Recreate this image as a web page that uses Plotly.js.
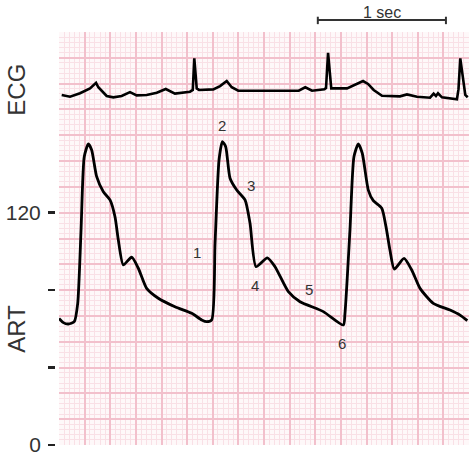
<!DOCTYPE html>
<html>
<head>
<meta charset="utf-8">
<script src="https://cdn.plot.ly/plotly-3.0.1.min.js"></script>
<style>html,body{margin:0;padding:0;background:#fff}#chart{width:474px;height:455px}</style>
</head>
<body>
<div id="chart"></div>
<script>
// Arterial pressure trace (time in s, pressure in mmHg)
var artTime = [0.000,0.034,0.073,0.119,0.146,0.172,0.197,0.229,0.255,0.294,0.346,0.398,0.437,0.463,0.502,0.567,0.619,0.684,0.775,0.905,1.036,1.114,
  1.153,1.192,1.218,1.249,1.275,1.301,1.335,1.387,1.452,1.491,1.538,1.626,1.686,1.790,1.881,2.063,2.219,
  2.232,2.271,2.302,2.336,2.367,2.414,2.453,2.519,2.552,2.583,2.617,2.693,2.753,2.818,2.921,3.052,3.130,3.187];
var artPressure = [65.4,63.2,62.5,63.7,73.2,111.1,148.9,155.5,152.4,138.6,130.8,126.6,117.9,105.9,93.0,97.0,91.3,80.9,75.8,71.4,68.0,64.6,
  63.7,64.6,104.2,147.2,156.7,154.1,137.8,131.7,126.6,114.5,92.1,96.7,92.1,79.2,74.0,68.9,62.0,
  68.0,111.1,148.9,155.5,150.7,131.7,126.2,122.3,112.8,100.7,90.8,96.4,90.4,80.9,73.2,69.7,67.1,64.2];

// ECG trace (time in s, plotted on the same vertical scale, offset above the pressure)
var ecgTime = [0.021,0.086,0.164,0.242,0.289,0.307,0.372,0.424,0.489,0.554,0.606,0.684,0.763,0.833,0.905,1.022,1.044,1.056,1.075,1.093,1.204,1.257,1.309,1.348,1.399,1.569,1.871,1.922,1.975,2.071,2.084,2.100,2.125,2.248,2.310,2.373,2.412,2.456,2.521,2.661,2.716,2.794,2.896,2.924,2.942,2.958,2.989,3.052,3.106,3.118,3.132,3.171,3.190];
var ecgValue = [180.8,179.9,181.7,184.2,187.1,184.8,180.3,179.6,180.3,182.3,180.6,180.8,182.0,183.9,181.5,182.5,183.4,199.7,184.2,183.4,183.7,185.4,188.0,184.8,183.0,183.0,183.0,184.8,183.0,183.7,184.4,202.6,184.2,184.2,186.0,188.0,186.5,183.4,180.4,180.1,181.1,179.9,179.4,181.5,180.3,181.7,179.6,179.2,178.6,183.8,199.7,180.8,179.6];

// Waveform point labels
var pointLabels = ["1","2","3","4","5","6"];
var labelTime = [1.075,1.275,1.496,1.530,1.954,2.206];
var labelValue = [99.3,164.8,134.3,82.6,80.1,52.5];

// Pressure axis ticks
var pressureTicks = [0,40,80,120];
var pressureTickText = ["0","","","120"];

// Scale bar (seconds)
var scaleStart = 2.02, scaleEnd = 3.02, scaleText = "1 sec";

var FONT = "Arial, 'Liberation Sans', sans-serif";
var INK = "#333333";

var traces = [
  {x: ecgTime, y: ecgValue, type: "scatter", mode: "lines", line: {color: "#000", width: 2.6}, hoverinfo: "skip"},
  {x: artTime, y: artPressure, type: "scatter", mode: "lines", line: {color: "#000", width: 2.8, shape: "spline", smoothing: 0.6}, hoverinfo: "skip"},
  // empty trace so the pressure tick axis gets drawn
  {x: [], y: [], type: "scatter", mode: "lines", yaxis: "y2", hoverinfo: "skip"}
];

var annotations = pointLabels.map(function(t, i){
  return {x: labelTime[i], y: labelValue[i], xref: "x", yref: "y", text: t, showarrow: false,
          xanchor: "center", yanchor: "middle",
          font: {family: FONT, size: 15, color: INK}};
});
annotations.push({x: -0.054, y: 0.86, xref: "paper", yref: "paper", text: "ECG", textangle: -90, showarrow: false,
                  xanchor: "center", yanchor: "middle", font: {family: FONT, size: 24, color: INK}});
annotations.push({x: -0.054, y: 0.281, xref: "paper", yref: "paper", text: "ART", textangle: -90, showarrow: false,
                  xanchor: "center", yanchor: "middle", font: {family: FONT, size: 24, color: INK}});
annotations.push({x: (scaleStart + scaleEnd) / 2, y: 1.048, xref: "x", yref: "paper", text: scaleText, showarrow: false,
                  xanchor: "center", yanchor: "middle", font: {family: FONT, size: 16, color: INK}});

var barY = 1.029;
var shapes = [
  {type: "line", xref: "x", yref: "paper", x0: scaleStart, x1: scaleEnd, y0: barY, y1: barY, line: {color: INK, width: 2}},
  {type: "line", xref: "x", yref: "paper", x0: scaleStart, x1: scaleStart, y0: barY - 0.01, y1: barY + 0.008, line: {color: INK, width: 2}},
  {type: "line", xref: "x", yref: "paper", x0: scaleEnd, x1: scaleEnd, y0: barY - 0.01, y1: barY + 0.008, line: {color: INK, width: 2}}
];

var MAJOR = "#f2c0cc", MINOR = "#f9e0e6";
var layout = {
  width: 474, height: 455,
  margin: {l: 40, r: 5, t: 32, b: 10, pad: 0},
  paper_bgcolor: "#ffffff",
  plot_bgcolor: "#fef8f9",
  showlegend: false,
  xaxis: {domain: [0.0443, 1], range: [0, 3.2], tick0: 0, dtick: 0.2, showgrid: true, gridcolor: MAJOR, gridwidth: 2,
          minor: {tick0: 0, dtick: 0.04, showgrid: true, gridcolor: MINOR, gridwidth: 1},
          showticklabels: false, ticks: "", zeroline: false, showline: false, fixedrange: true},
  yaxis: {range: [0, 213.333], tick0: 0, dtick: 13.3333, showgrid: true, gridcolor: MAJOR, gridwidth: 2,
          minor: {tick0: 0, dtick: 2.66667, showgrid: true, gridcolor: MINOR, gridwidth: 1},
          showticklabels: false, ticks: "", zeroline: false, showline: false, fixedrange: true},
  yaxis2: {overlaying: "y", anchor: "free", position: 0.035, side: "left", range: [0, 213.333],
           tickmode: "array", tickvals: pressureTicks, ticktext: pressureTickText,
           ticks: "outside", ticklen: 7, tickwidth: 2.5, tickcolor: "#222",
           ticklabelstandoff: 3, ticklabeloverflow: "allow",
           tickfont: {family: FONT, size: 21, color: INK},
           showgrid: false, zeroline: false, showline: false, automargin: false, fixedrange: true},
  annotations: annotations,
  shapes: shapes
};

Plotly.newPlot("chart", traces, layout, {staticPlot: true, displayModeBar: false});
</script>
</body>
</html>
